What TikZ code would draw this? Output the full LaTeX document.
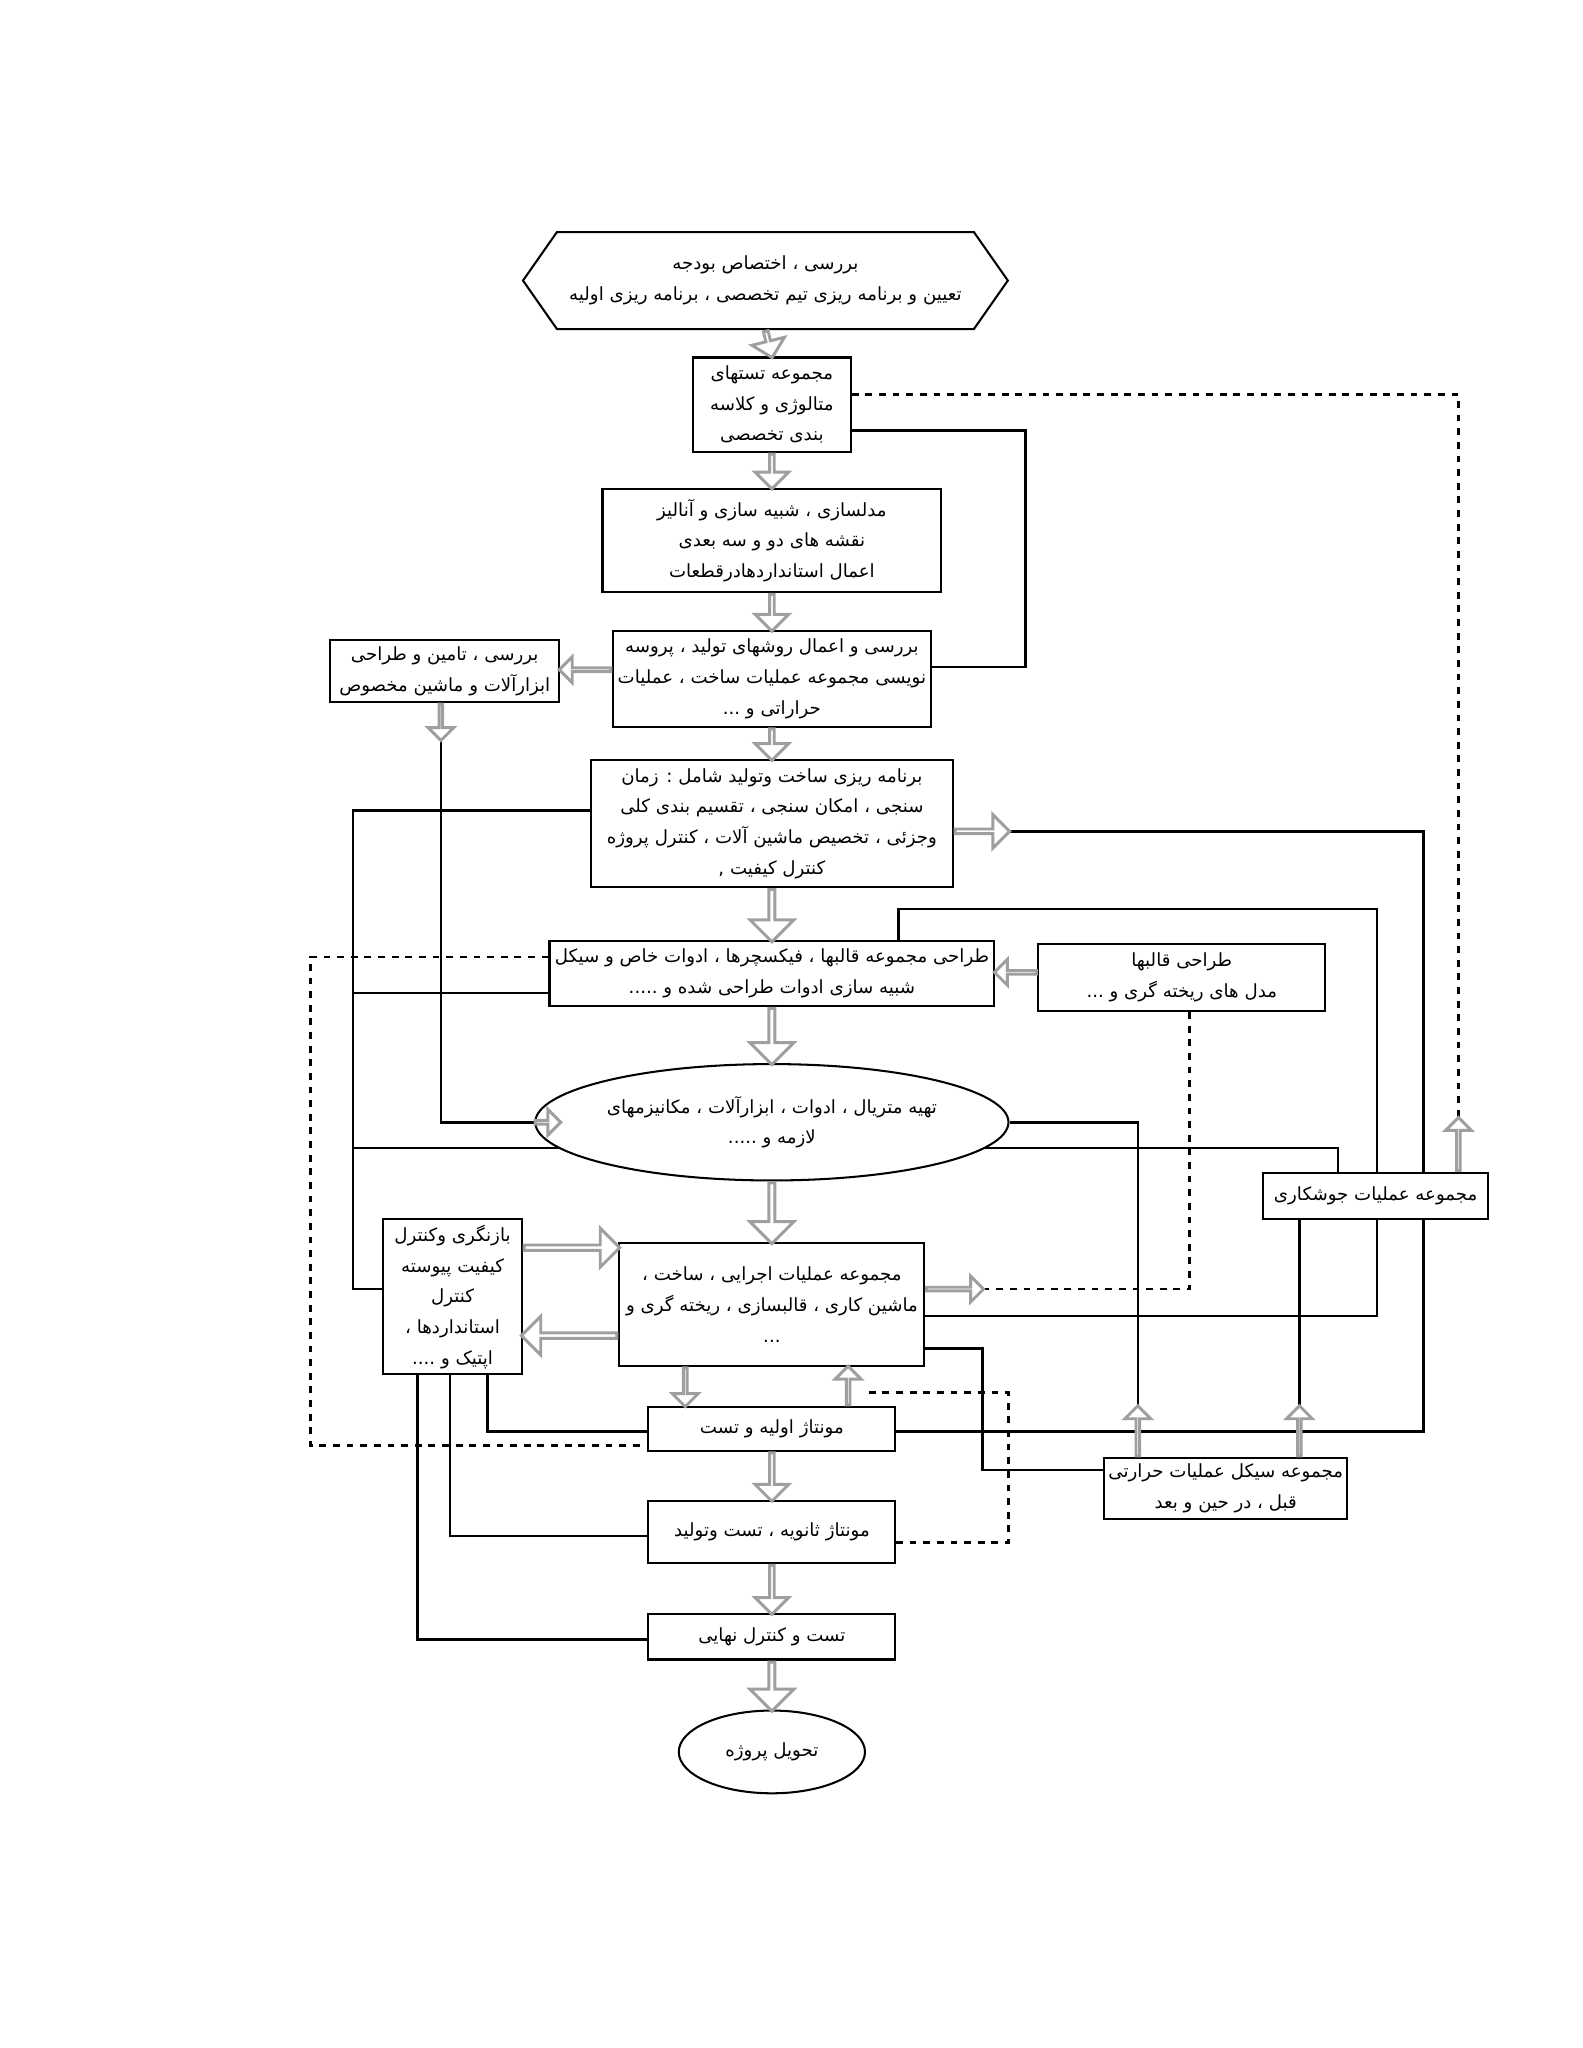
\documentclass[tikz,border=0pt]{standalone}
\usepackage{fontspec}
\newfontfamily\fa[Script=Arabic]{DejaVu Sans}
\usetikzlibrary{shapes.geometric,shapes.symbols,shapes.arrows,calc,backgrounds}
\TeXXeTstate=1
\newcommand\rl[1]{\beginR#1\endR}
\newcommand\barrow[3][26]{\path let \p1=#2, \p2=#3, \n1={atan2(\y2-\y1,\x2-\x1)}, \n2={veclen(\x2-\x1,\y2-\y1)} in
  node[blk, minimum height=\n2, minimum width=#1*0.02cm, rotate=\n1] at ($#2!0.5!#3$) {};}

\begin{document}
\begin{tikzpicture}[x=0.02cm, y=-0.02cm,
  wh/.style 2 args={minimum width=#1*0.02cm, minimum height=#2*0.02cm},
  every node/.style={font=\fa\fontsize{8}{13.5}\selectfont, align=center, inner sep=1pt},
  box/.style={draw, line width=0.9pt, fill=white},
  blk/.style={single arrow, draw=gray!75, fill=white, line width=1.3pt, single arrow head extend=4pt, inner sep=0pt},
  link/.style={line width=1.1pt},
  dlink/.style={line width=1.1pt, dashed}]
\useasboundingbox (0,0) rectangle (1224,1584);
% boxes
\node[box, signal, signal to=west and east, signal pointer angle=110, wh={375}{75}] (hex) at (592,217) {\rl{بررسی ، اختصاص بودجه}\\\rl{تعیین و برنامه ریزی تیم تخصصی ، برنامه ریزی اولیه}};
\node[box, wh={122}{73}] (tests) at (597,313) {\rl{مجموعه تستهای}\\\rl{متالوژی و کلاسه}\\\rl{بندی تخصصی}};
\node[box, wh={262}{80}] (model) at (597,418) {\rl{مدلسازی ، شبیه سازی و آنالیز}\\\rl{نقشه های دو و سه بعدی}\\\rl{اعمال استانداردهادرقطعات}};
\node[box, wh={246}{74}] (method) at (597,525) {\rl{بررسی و اعمال روشهای تولید ، پروسه}\\\rl{نویسی مجموعه عملیات ساخت ، عملیات}\\\rl{حراراتی و ...}};
\node[box, wh={177}{48}] (tools) at (344,519) {\rl{بررسی ، تامین و طراحی}\\\rl{ابزارآلات و ماشین مخصوص}};
\node[box, wh={280}{98}] (plan) at (597,637) {\rl{برنامه ریزی ساخت وتولید شامل : زمان}\\\rl{سنجی ، امکان سنجی ، تقسیم بندی کلی}\\\rl{وجزئی ، تخصیص ماشین آلات ، کنترل پروژه}\\\rl{کنترل کیفیت ,}};
\node[box, wh={344}{50}] (design) at (597,753) {\rl{طراحی مجموعه قالبها ، فیکسچرها ، ادوات خاص و سیکل}\\\rl{شبیه سازی ادوات طراحی شده و .....}};
\node[box, wh={222}{52}] (molds) at (914,756) {\rl{طراحی قالبها}\\\rl{مدل های ریخته گری و ...}};
\node[box, ellipse, wh={244}{90}] (supply) at (597,868) {\rl{تهیه متریال ، ادوات ، ابزارآلات ، مکانیزمهای}\\\rl{لازمه و .....}};
\node[box, wh={174}{36}] (weld) at (1064,925) {\rl{مجموعه عملیات جوشکاری}};
\node[box, wh={107}{120}] (qc) at (350,1003) {\rl{بازنگری وکنترل}\\\rl{کیفیت پیوسته}\\\rl{کنترل}\\\rl{استانداردها ،}\\\rl{اپتیک و ....}};
\node[box, wh={236}{95}] (exec) at (597,1009) {\rl{مجموعه عملیات اجرایی ، ساخت ،}\\\rl{ماشین کاری ، قالبسازی ، ریخته گری و}\\\rl{...}};
\node[box, wh={191}{34}] (mont1) at (597,1105) {\rl{مونتاژ  اولیه و تست}};
\node[box, wh={188}{47}] (heat) at (948,1151) {\rl{مجموعه سیکل عملیات حرارتی}\\\rl{قبل ، در حین و بعد}};
\node[box, wh={191}{48}] (mont2) at (597,1185) {\rl{مونتاژ ثانویه ، تست وتولید}};
\node[box, wh={191}{35}] (final) at (597,1266) {\rl{تست و کنترل نهایی}};
\node[box, ellipse, wh={144}{64}] (done) at (597,1355) {\rl{تحویل پروژه}};
% connectors
\begin{pgfonlayer}{background}
\draw[link] (tests.east |- 0,333) -- (793,333) -- (793,516) -- (method.east |- 0,516);
\draw[link] (plan.west |- 0,627) -- (273,627) -- (273,997) -- (qc.west |- 0,997);
\draw[link] (design.west |- 0,768) -- (273,768);
\draw[link] (341,572) -- (341,868) -- (433,868);
\draw[link] (780,643) -- (1101,643) -- (1101,1107) -- (mont1.east |- 0,1107);
\draw[link] (design.north -| 695,0) -- (695,703) -- (1065,703) -- (1065,1018) -- (exec.east |- 0,1018);
\draw[link] (273,888) -- (1035,888) -- (weld.north -| 1035,0);
\draw[link] (supply.east |- 0,868) -- (880,868) -- (880,1088);
\draw[link] (weld.south -| 1005,0) -- (1005,1088);
\draw[link] (qc.south -| 377,0) -- (377,1107) -- (mont1.west |- 0,1107);
\draw[link] (qc.south -| 348,0) -- (348,1188) -- (mont2.west |- 0,1188);
\draw[link] (qc.south -| 323,0) -- (323,1268) -- (final.west |- 0,1268);
\draw[link] (exec.east |- 0,1043) -- (760,1043) -- (760,1137) -- (heat.west |- 0,1137);
\draw[dlink] (tests.east |- 0,305) -- (1128,305) -- (1128,865);
\draw[dlink] (design.west |- 0,740) -- (240,740) -- (240,1118) -- (mont1.west |- 0,1118);
\draw[dlink] (molds.south -| 920,0) -- (920,997) -- (760,997);
\draw[dlink] (672,1077) -- (780,1077) -- (780,1193) -- (mont2.east |- 0,1193);
\end{pgfonlayer}
% block arrows
\barrow{(hex.south)}{(tests.north)}
\barrow{(tests.south)}{(model.north)}
\barrow{(model.south)}{(method.north)}
\barrow{(method.south)}{(plan.north)}
\barrow[20]{(method.west |- 0,518)}{(tools.east |- 0,518)}
\barrow[20]{(tools.south -| 341,0)}{(341,572)}
\barrow[34]{(plan.south)}{(design.north)}
\barrow[20]{(molds.west |- 0,752)}{(design.east |- 0,752)}
\barrow[34]{(design.south)}{(supply.north)}
\barrow[20]{(supply.west |- 0,868)}{(433,868)}
\barrow[34]{(supply.south)}{(exec.north)}
\barrow[26]{(plan.east |- 0,643)}{(780,643)}
\barrow[30]{(qc.east |- 0,965)}{(exec.west |- 0,965)}
\barrow[30]{(exec.west |- 0,1033)}{(qc.east |- 0,1033)}
\barrow[20]{(exec.east |- 0,997)}{(760,997)}
\barrow[20]{(exec.south -| 530,0)}{(mont1.north -| 530,0)}
\barrow[20]{(mont1.north -| 656,0)}{(exec.south -| 656,0)}
\barrow[20]{(weld.north -| 1128,0)}{(1128,865)}
\barrow[20]{(heat.north -| 880,0)}{(880,1088)}
\barrow[20]{(heat.north -| 1005,0)}{(1005,1088)}
\barrow{(mont1.south)}{(mont2.north)}
\barrow{(mont2.south)}{(final.north)}
\barrow[34]{(final.south)}{(done.north)}
\end{tikzpicture}
\end{document}
